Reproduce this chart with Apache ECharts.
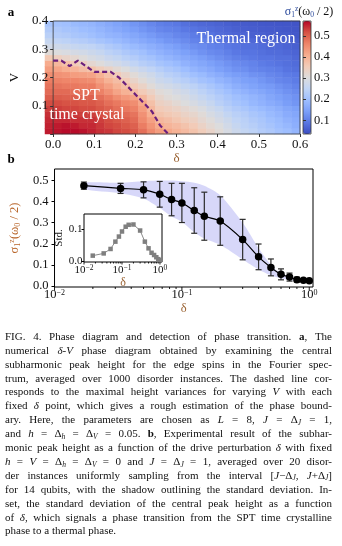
<!DOCTYPE html>
<html>
<head>
<meta charset="utf-8">
<script src="https://cdn.jsdelivr.net/npm/echarts@6/dist/echarts.min.js"></script>
<style>
  html, body { margin: 0; padding: 0; background: #fff; }
  #c { width: 342px; height: 546px; }
</style>
</head>
<body>
<div id="c"></div>
<script>
const SERIF = "'Liberation Serif','DejaVu Serif',serif";

// ---------- panel a: delta-V phase diagram ----------
const deltaCells = ['0.01','0.03','0.05','0.07','0.09','0.11','0.13','0.15','0.17','0.19',
  '0.21','0.23','0.25','0.27','0.29','0.31','0.33','0.35','0.37','0.39',
  '0.41','0.43','0.45','0.47','0.49','0.51','0.53','0.55','0.57','0.59'];
const vCells = ['0.01','0.03','0.05','0.07','0.09','0.11','0.13','0.15','0.17','0.19',
  '0.21','0.23','0.25','0.27','0.29','0.31','0.33','0.35','0.37','0.39'];
// peak height, one row per V cell (bottom row first), one entry per delta cell
const peakRows = [
  [0.555,0.56,0.565,0.565,0.56,0.55,0.54,0.535,0.525,0.52,0.51,0.485,0.455,0.43,0.415,0.40,0.385,0.37,0.35,0.33,0.31,0.29,0.27,0.255,0.245,0.23,0.22,0.205,0.195,0.18],
  [0.55,0.555,0.56,0.555,0.545,0.545,0.535,0.525,0.52,0.51,0.50,0.47,0.44,0.41,0.395,0.385,0.37,0.355,0.335,0.315,0.30,0.28,0.26,0.245,0.235,0.22,0.21,0.195,0.185,0.17],
  [0.545,0.545,0.545,0.54,0.54,0.54,0.53,0.52,0.51,0.50,0.49,0.455,0.425,0.39,0.38,0.365,0.35,0.34,0.32,0.305,0.285,0.27,0.25,0.24,0.225,0.215,0.20,0.19,0.175,0.165],
  [0.54,0.54,0.535,0.535,0.53,0.53,0.52,0.51,0.50,0.49,0.48,0.445,0.405,0.37,0.36,0.35,0.335,0.325,0.31,0.29,0.275,0.255,0.24,0.23,0.215,0.205,0.19,0.18,0.165,0.155],
  [0.53,0.53,0.525,0.525,0.52,0.52,0.51,0.50,0.485,0.475,0.465,0.43,0.39,0.355,0.345,0.335,0.32,0.31,0.295,0.275,0.26,0.24,0.225,0.215,0.20,0.19,0.18,0.17,0.155,0.145],
  [0.52,0.52,0.515,0.515,0.51,0.51,0.50,0.485,0.475,0.46,0.45,0.415,0.375,0.34,0.33,0.315,0.30,0.29,0.275,0.26,0.24,0.225,0.21,0.20,0.185,0.175,0.165,0.155,0.14,0.13],
  [0.505,0.505,0.50,0.50,0.50,0.50,0.485,0.47,0.45,0.435,0.42,0.39,0.355,0.325,0.31,0.30,0.29,0.275,0.26,0.245,0.23,0.215,0.20,0.19,0.18,0.17,0.155,0.145,0.135,0.125],
  [0.49,0.49,0.49,0.485,0.485,0.485,0.465,0.445,0.42,0.40,0.38,0.355,0.335,0.31,0.30,0.285,0.275,0.26,0.245,0.23,0.215,0.20,0.185,0.175,0.165,0.155,0.145,0.135,0.125,0.115],
  [0.48,0.48,0.475,0.475,0.47,0.47,0.445,0.425,0.40,0.38,0.355,0.335,0.31,0.29,0.28,0.27,0.255,0.245,0.23,0.215,0.20,0.185,0.17,0.16,0.15,0.14,0.135,0.125,0.115,0.105],
  [0.47,0.465,0.46,0.46,0.455,0.45,0.425,0.40,0.38,0.355,0.33,0.31,0.29,0.27,0.26,0.245,0.235,0.22,0.205,0.195,0.18,0.17,0.155,0.145,0.14,0.13,0.12,0.11,0.105,0.095],
  [0.45,0.445,0.44,0.43,0.425,0.42,0.40,0.375,0.355,0.33,0.31,0.29,0.275,0.255,0.24,0.23,0.215,0.20,0.19,0.175,0.165,0.15,0.14,0.135,0.125,0.12,0.11,0.105,0.095,0.09],
  [0.43,0.42,0.405,0.395,0.38,0.37,0.35,0.335,0.315,0.30,0.28,0.265,0.25,0.235,0.22,0.21,0.195,0.18,0.17,0.16,0.145,0.135,0.125,0.12,0.11,0.105,0.10,0.095,0.085,0.08],
  [0.41,0.39,0.375,0.355,0.34,0.32,0.305,0.29,0.28,0.265,0.25,0.235,0.225,0.21,0.20,0.19,0.175,0.165,0.155,0.145,0.135,0.125,0.115,0.11,0.105,0.095,0.09,0.085,0.08,0.075],
  [0.36,0.345,0.33,0.32,0.305,0.29,0.28,0.265,0.255,0.24,0.23,0.215,0.205,0.19,0.18,0.17,0.16,0.15,0.14,0.13,0.12,0.11,0.10,0.095,0.09,0.085,0.085,0.08,0.08,0.07],
  [0.31,0.30,0.295,0.285,0.28,0.27,0.26,0.245,0.235,0.22,0.21,0.20,0.185,0.175,0.165,0.155,0.145,0.135,0.125,0.115,0.11,0.10,0.09,0.085,0.085,0.08,0.075,0.075,0.07,0.065],
  [0.28,0.275,0.27,0.26,0.255,0.25,0.24,0.225,0.215,0.20,0.19,0.18,0.17,0.16,0.15,0.14,0.13,0.12,0.115,0.105,0.10,0.09,0.085,0.08,0.08,0.075,0.07,0.07,0.065,0.06],
  [0.26,0.25,0.245,0.235,0.23,0.22,0.21,0.20,0.19,0.18,0.17,0.16,0.15,0.14,0.13,0.125,0.115,0.105,0.10,0.095,0.085,0.08,0.075,0.07,0.07,0.065,0.065,0.06,0.06,0.055],
  [0.24,0.23,0.225,0.215,0.21,0.20,0.19,0.18,0.175,0.165,0.155,0.145,0.135,0.125,0.12,0.11,0.105,0.095,0.09,0.085,0.075,0.07,0.065,0.065,0.06,0.06,0.055,0.055,0.055,0.05],
  [0.225,0.22,0.21,0.205,0.195,0.19,0.18,0.17,0.16,0.15,0.14,0.13,0.12,0.11,0.105,0.10,0.09,0.085,0.08,0.075,0.07,0.065,0.06,0.058,0.056,0.054,0.053,0.051,0.049,0.047],
  [0.21,0.205,0.20,0.19,0.185,0.18,0.17,0.16,0.15,0.14,0.13,0.12,0.11,0.10,0.095,0.09,0.08,0.075,0.07,0.067,0.063,0.059,0.055,0.054,0.052,0.05,0.049,0.048,0.047,0.045]
];
// boundary estimate (maximal variance in V at each delta)
const boundaryDelta = [0, 0.02, 0.04, 0.06, 0.08, 0.10, 0.12, 0.14, 0.16, 0.18, 0.20, 0.22, 0.24, 0.26, 0.28];
const boundaryV     = [0.26, 0.26, 0.24, 0.26, 0.24, 0.22, 0.22, 0.22, 0.20, 0.17, 0.14, 0.11, 0.08, 0.03, 0.0];
const colorTicks = [0.1, 0.2, 0.3, 0.4, 0.5];
const COLOR_MIN = 0.035, COLOR_MAX = 0.57;
const coolwarm = ['#3b4cc0','#5977e3','#7b9ff9','#9ebeff','#c0d4f5','#dddcdc',
                  '#f2cbb7','#f7ac8e','#ee8468','#d65244','#b40426'];

// ---------- panel b: experiment vs drive perturbation ----------
const delta     = [0.017, 0.033, 0.05, 0.067, 0.083, 0.1, 0.125, 0.15, 0.2, 0.3, 0.4, 0.5, 0.6, 0.7, 0.8, 0.9, 1.0];
const peakMean  = [0.476, 0.463, 0.456, 0.435, 0.410, 0.394, 0.358, 0.331, 0.308, 0.220, 0.138, 0.088, 0.055, 0.042, 0.030, 0.027, 0.025];
const peakStd   = [0.017, 0.024, 0.038, 0.061, 0.077, 0.093, 0.108, 0.114, 0.115, 0.096, 0.061, 0.040, 0.026, 0.019, 0.012, 0.006, 0.003];
const bandUpper = [0.490, 0.490, 0.497, 0.500, 0.500, 0.497, 0.490, 0.475, 0.430, 0.300, 0.180, 0.100, 0.060, 0.045, 0.035, 0.030, 0.028];
const bandLower = [0.460, 0.440, 0.415, 0.370, 0.330, 0.305, 0.255, 0.225, 0.195, 0.125, 0.078, 0.050, 0.036, 0.028, 0.022, 0.020, 0.020];
const yTicksB = [0, 0.1, 0.2, 0.3, 0.4, 0.5];
const yTicksInset = [0, 0.1];
const logMajor = [0.01, 0.1, 1];
const logMinor = [0.02,0.03,0.04,0.05,0.06,0.07,0.08,0.09,0.2,0.3,0.4,0.5,0.6,0.7,0.8,0.9];

// ---------- caption ----------
const captionLines = [
  'FIG. 4.  Phase diagram and detection of phase transition.  {b|a}, The',
  'numerical {i|δ}-{i|V} phase diagram obtained by examining the central',
  'subharmonic peak height for the edge spins in the Fourier spec-',
  'trum, averaged over 1000 disorder instances.  The dashed line cor-',
  'responds to the maximal height variances for varying {i|V} with each',
  'fixed {i|δ} point, which gives a rough estimation of the phase bound-',
  'ary.  Here, the parameters are chosen as {i|L} = 8, {i|J} = Δ{s|J} = 1,',
  'and {i|h} = Δ{s|h} = Δ{s|V} = 0.05.  {b|b}, Experimental result of the subhar-',
  'monic peak height as a function of the drive perturbation {i|δ} with fixed',
  '{i|h} = {i|V} = Δ{s|h} = Δ{s|V} = 0 and {i|J} = Δ{s|J} = 1, averaged over 20 disor-',
  'der instances uniformly sampling from the interval [{i|J}−Δ{s|J}, {i|J}+Δ{s|J}]',
  'for 14 qubits, with the shadow outlining the standard deviation.  In-',
  'set, the standard deviation of the central peak height as a function',
  'of {i|δ}, which signals a phase transition from the SPT time crystalline',
  'phase to a thermal phase.'
];

// ---------- helpers ----------
const B_YMIN = -0.005, B_YMAX = 0.555;
const IN_YMIN = -0.003, IN_YMAX = 0.148;
const TXT = '#111';
const DELTA_COLOR = '#9a6232';

function powLabel(v) {
  const l = Math.log10(v);
  const e = Math.round(l);
  if (Math.abs(l - e) > 1e-6) return '';
  return '10{sup|' + (e < 0 ? '−' + (-e) : String(e)) + '}';
}
function supRich(size) {
  return { sup: { fontSize: size, lineHeight: Math.round(size + 1), verticalAlign: 'top', fontFamily: SERIF, color: TXT } };
}
function tickSeries(xIdx, yIdx, values, yMin, len, z) {
  return {
    type: 'custom', xAxisIndex: xIdx, yAxisIndex: yIdx, silent: true, clip: false, z: z,
    data: values.map(v => [v, yMin]),
    encode: { x: 0, y: 1 },
    renderItem: (params, api) => {
      const p = api.coord([api.value(0), api.value(1)]);
      return { type: 'line', shape: { x1: p[0], y1: p[1], x2: p[0], y2: p[1] + len },
               style: { stroke: '#000', lineWidth: 0.9 } };
    }
  };
}

const heatData = [];
peakRows.forEach((row, j) => row.forEach((v, i) => heatData.push([i, j, v])));

// caption layout: justified lines of words
const capRich = {
  i: { fontStyle: 'italic', fontSize: 11, fontFamily: SERIF, fill: TXT, lineHeight: 13 },
  b: { fontWeight: 'bold', fontSize: 11, fontFamily: SERIF, fill: TXT, lineHeight: 13 },
  s: { fontStyle: 'italic', fontSize: 7.5, fontFamily: SERIF, fill: TXT, lineHeight: 8, verticalAlign: 'bottom' }
};
const capStyle = { fontSize: 11, fontFamily: SERIF, fill: TXT, lineHeight: 13, rich: capRich };
const CAP_LEFT = 5, CAP_RIGHT = 332, CAP_TOP = 337, CAP_STEP = 13.9;
const measureCtx = document.createElement('canvas').getContext('2d');
function tokWidth(tok) {
  try {
    const el = new echarts.graphic.Text({ style: Object.assign({ text: tok }, capStyle) });
    const w = el.getBoundingRect().width;
    if (w > 0) return w;
  } catch (e) {}
  measureCtx.font = '11px ' + SERIF;
  return measureCtx.measureText(tok.replace(/\{[a-z]\|([^}]*)\}/g, '$1')).width;
}
const captionGraphics = [];
captionLines.forEach((line, k) => {
  const toks = line.split(/\s+/);
  const ws = toks.map(tokWidth);
  const total = ws.reduce((a, b) => a + b, 0);
  const last = k === captionLines.length - 1;
  const gap = last ? 2.8 : Math.max(1.2, (CAP_RIGHT - CAP_LEFT - total) / (toks.length - 1));
  let x = CAP_LEFT;
  toks.forEach((t, n) => {
    captionGraphics.push({
      type: 'text', x: x, y: CAP_TOP + k * CAP_STEP, silent: true,
      style: Object.assign({ text: t, align: 'left', verticalAlign: 'middle' }, capStyle)
    });
    x += ws[n] + gap;
  });
});

const chart = echarts.init(document.getElementById('c'), null, { renderer: 'canvas' });

const serifLabel = (size, extra) => Object.assign({ fontFamily: SERIF, fontSize: size, color: TXT }, extra || {});

const option = {
  animation: false,
  textStyle: { fontFamily: SERIF },
  grid: [
    { left: 45, top: 21, width: 255, height: 113 },                                   // 0 heat cells
    { left: 45, top: 21, width: 255, height: 113, show: true, z: 3,
      backgroundColor: 'rgba(0,0,0,0)', borderColor: '#333', borderWidth: 0.8 },      // 1 heat axes
    { left: 303, top: 21, width: 8, height: 113, show: true, z: 6,
      backgroundColor: 'rgba(0,0,0,0)', borderColor: '#333', borderWidth: 0.8 },      // 2 colour bar
    { left: 48, top: 169, width: 265, height: 118, show: true, z: 1,
      backgroundColor: 'rgba(0,0,0,0)', borderColor: '#000', borderWidth: 1 },        // 3 panel b
    { left: 84, top: 214, width: 78, height: 48, show: true, z: 10,
      backgroundColor: '#fff', borderColor: '#000', borderWidth: 1 }                  // 4 inset
  ],
  xAxis: [
    { gridIndex: 0, type: 'category', data: deltaCells, show: false },
    { gridIndex: 1, type: 'value', min: 0, max: 0.6, interval: 0.1, z: 3,
      axisLine: { show: false }, splitLine: { show: false },
      axisTick: { length: 3, lineStyle: { color: '#333' } },
      axisLabel: serifLabel(13, { margin: 4.5, formatter: v => v.toFixed(1) }),
      name: 'δ', nameLocation: 'middle', nameGap: 12,
      nameTextStyle: serifLabel(13, { color: DELTA_COLOR }) },
    { gridIndex: 2, type: 'value', show: false, min: 0, max: 1 },
    { gridIndex: 3, type: 'log', logBase: 10, min: 0.01, max: 1.07,
      axisLine: { show: false }, splitLine: { show: false }, axisTick: { show: false },
      axisLabel: serifLabel(12.5, { margin: 1.5, lineHeight: 13, formatter: powLabel, rich: supRich(8) }),
      name: 'δ', nameLocation: 'middle', nameGap: 11,
      nameTextStyle: serifLabel(12.5, { color: DELTA_COLOR }) },
    { gridIndex: 4, type: 'log', logBase: 10, min: 0.01, max: 1.13, z: 11,
      axisLine: { show: false }, splitLine: { show: false }, axisTick: { show: false },
      axisLabel: serifLabel(11, { margin: 2, lineHeight: 12, formatter: powLabel, rich: supRich(7.5) }),
      name: 'δ', nameLocation: 'middle', nameGap: 11,
      nameTextStyle: serifLabel(12, { color: DELTA_COLOR }) }
  ],
  yAxis: [
    { gridIndex: 0, type: 'category', data: vCells, show: false },
    { gridIndex: 1, type: 'value', min: 0, max: 0.4, interval: 0.1, z: 3,
      axisLine: { show: false }, splitLine: { show: false },
      axisTick: { length: 3, lineStyle: { color: '#333' } },
      axisLabel: serifLabel(13, { margin: 5, formatter: v => (v === 0 ? '' : v.toFixed(1)) }),
      name: 'V', nameLocation: 'middle', nameGap: 21, nameRotate: 90,
      nameTextStyle: serifLabel(13) },
    { gridIndex: 2, type: 'value', position: 'right', min: COLOR_MIN, max: COLOR_MAX, z: 6,
      axisLine: { show: false }, splitLine: { show: false },
      axisTick: { length: 3, customValues: colorTicks, lineStyle: { color: '#333' } },
      axisLabel: serifLabel(12.5, { margin: 3, customValues: colorTicks, formatter: v => v.toFixed(1) }) },
    { gridIndex: 3, type: 'value', min: B_YMIN, max: B_YMAX,
      axisLine: { show: false }, splitLine: { show: false },
      axisTick: { length: 3, customValues: yTicksB, lineStyle: { color: '#000' } },
      axisLabel: serifLabel(12.5, { margin: 6, customValues: yTicksB, formatter: v => v.toFixed(1) }),
      name: 'σ{sb|1}{sp|z}(ω{sb|0} / 2)', nameLocation: 'middle', nameGap: 31, nameRotate: 90,
      nameTextStyle: serifLabel(12.5, { color: '#b8652a', lineHeight: 14, rich: {
        sb: { fontSize: 8, lineHeight: 8, verticalAlign: 'bottom', color: '#b8652a', fontFamily: SERIF },
        sp: { fontSize: 8, lineHeight: 9, verticalAlign: 'top', color: '#b8652a', fontFamily: SERIF }
      } }) },
    { gridIndex: 4, type: 'value', min: IN_YMIN, max: IN_YMAX, z: 11,
      axisLine: { show: false }, splitLine: { show: false },
      axisTick: { length: 2.5, customValues: yTicksInset, lineStyle: { color: '#000' } },
      axisLabel: serifLabel(11, { margin: 1.5, customValues: yTicksInset, formatter: v => v.toFixed(1) }),
      name: 'Std.', nameLocation: 'middle', nameGap: 12, nameRotate: 90,
      nameTextStyle: serifLabel(11) }
  ],
  visualMap: {
    type: 'continuous', seriesIndex: 0, min: COLOR_MIN, max: COLOR_MAX,
    orient: 'vertical', left: 303, top: 21, itemWidth: 8, itemHeight: 113,
    padding: 0, calculable: false, hoverLink: false,
    inRange: { color: coolwarm }
  },
  series: [
    { type: 'heatmap', xAxisIndex: 0, yAxisIndex: 0, data: heatData, silent: true,
      progressive: 0, itemStyle: { borderWidth: 0 }, emphasis: { disabled: true } },
    { type: 'line', xAxisIndex: 1, yAxisIndex: 1, z: 5, silent: true, symbol: 'none',
      data: boundaryDelta.map((d, k) => [d, boundaryV[k]]),
      lineStyle: { color: '#6b1f7c', width: 2.2, type: [5, 3] } },
    // shaded standard-deviation band, one closed smooth outline
    { type: 'custom', xAxisIndex: 3, yAxisIndex: 3, silent: true, z: 1,
      data: delta.map((d, k) => [d, bandLower[k], bandUpper[k]]),
      encode: { x: 0, y: [1, 2] },
      renderItem: (params, api) => {
        if (params.dataIndex !== 0) return null;
        const up = delta.map((d, k) => api.coord([d, bandUpper[k]]));
        const lo = delta.map((d, k) => api.coord([d, bandLower[k]])).reverse();
        return { type: 'polygon', shape: { points: up.concat(lo), smooth: 0.25 },
                 style: { fill: 'rgba(110,110,235,0.28)', stroke: null } };
      } },
    // error bars
    { type: 'custom', xAxisIndex: 3, yAxisIndex: 3, silent: true, z: 3,
      data: delta.map((d, k) => [d, peakMean[k], peakStd[k]]),
      encode: { x: 0, y: 1 },
      renderItem: (params, api) => {
        const x = api.value(0), m = api.value(1), s = api.value(2);
        const top = api.coord([x, m + s]);
        const bot = api.coord([x, m - s]);
        const w = 3;
        const st = { stroke: '#2b2b2b', lineWidth: 1.2 };
        return { type: 'group', children: [
          { type: 'line', shape: { x1: top[0], y1: top[1], x2: bot[0], y2: bot[1] }, style: st },
          { type: 'line', shape: { x1: top[0] - w, y1: top[1], x2: top[0] + w, y2: top[1] }, style: st },
          { type: 'line', shape: { x1: bot[0] - w, y1: bot[1], x2: bot[0] + w, y2: bot[1] }, style: st }
        ] };
      } },
    { type: 'line', xAxisIndex: 3, yAxisIndex: 3, silent: true, z: 4, smooth: 0.3,
      data: delta.map((d, k) => [d, peakMean[k]]),
      symbol: 'circle', symbolSize: 7.5,
      itemStyle: { color: '#000' }, lineStyle: { color: '#000', width: 1.2 } },
    tickSeries(3, 3, logMajor, B_YMIN, 3.5, 2),
    tickSeries(3, 3, logMinor, B_YMIN, 2, 2),
    // inset: standard deviation
    { type: 'line', xAxisIndex: 4, yAxisIndex: 4, silent: true, z: 12,
      data: delta.map((d, k) => [d, peakStd[k]]),
      symbol: 'rect', symbolSize: 4.5,
      itemStyle: { color: '#7f7f7f' }, lineStyle: { color: '#8a8a8a', width: 1 } },
    tickSeries(4, 4, logMajor, IN_YMIN, 2.5, 12),
    tickSeries(4, 4, logMinor, IN_YMIN, 1.5, 12)
  ],
  graphic: [
    { type: 'text', x: 11, y: 13, silent: true,
      style: { text: 'a', fontSize: 13, fontWeight: 'bold', fontFamily: SERIF, fill: '#000', align: 'center', verticalAlign: 'middle' } },
    { type: 'text', x: 11, y: 160, silent: true,
      style: { text: 'b', fontSize: 13, fontWeight: 'bold', fontFamily: SERIF, fill: '#000', align: 'center', verticalAlign: 'middle' } },
    { type: 'text', x: 86, y: 96, z: 20, silent: true,
      style: { text: 'SPT', fontSize: 16, fontFamily: SERIF, fill: '#fff', align: 'center', verticalAlign: 'middle' } },
    { type: 'text', x: 87, y: 115, z: 20, silent: true,
      style: { text: 'time crystal', fontSize: 16, fontFamily: SERIF, fill: '#fff', align: 'center', verticalAlign: 'middle' } },
    { type: 'text', x: 246, y: 39, z: 20, silent: true,
      style: { text: 'Thermal region', fontSize: 16, fontFamily: SERIF, fill: '#fff', align: 'center', verticalAlign: 'middle' } },
    { type: 'text', x: 309, y: 12, z: 20, silent: true,
      style: { text: '{c|σ}{cb|1}{cp|z}(ω{cb|0} / 2)', fontSize: 12, fontFamily: SERIF, fill: TXT,
               lineHeight: 14, align: 'center', verticalAlign: 'middle',
               rich: {
                 c: { fontSize: 12, fontFamily: SERIF, fill: '#2b4a9c', lineHeight: 14 },
                 cb: { fontSize: 7.5, fontFamily: SERIF, fill: '#2b4a9c', lineHeight: 8, verticalAlign: 'bottom' },
                 cp: { fontSize: 7.5, fontFamily: SERIF, fill: '#2b4a9c', lineHeight: 9, verticalAlign: 'top' }
               } } }
  ].concat(captionGraphics)
};

chart.setOption(option);
</script>
</body>
</html>
